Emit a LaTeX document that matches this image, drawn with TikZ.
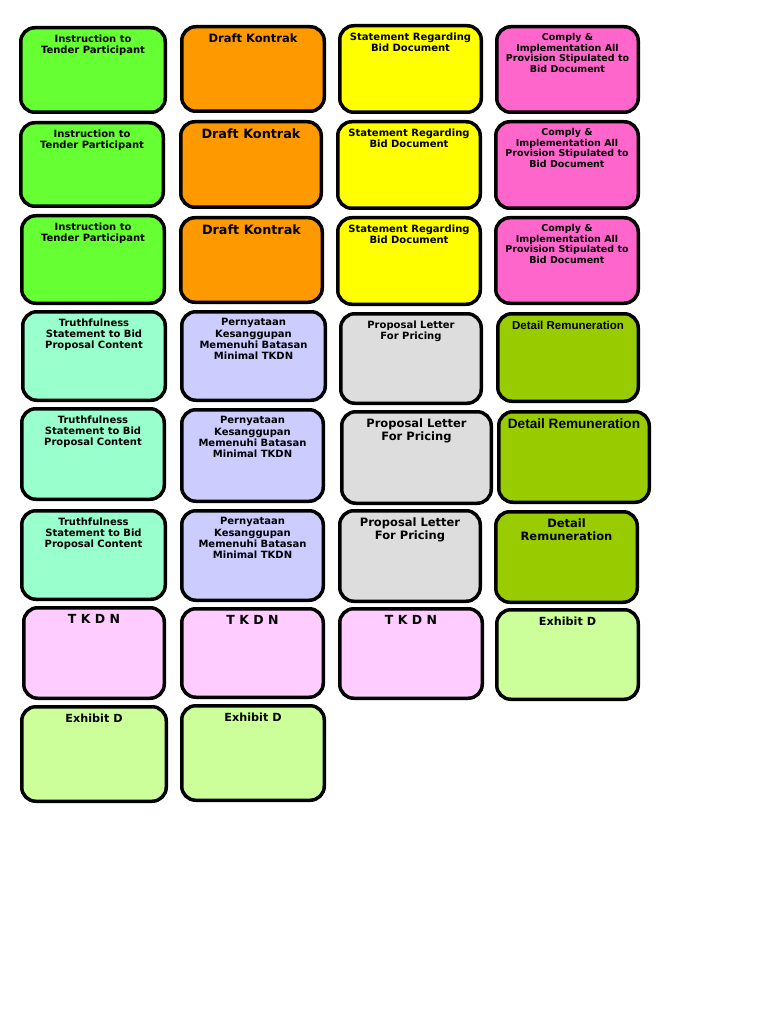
\documentclass[tikz,border=0pt]{standalone}
\usepackage{fontspec}
\setmainfont{DejaVu Sans}
\newfontfamily\arialfont{Liberation Sans}
\definecolor{instr}{HTML}{66FF33}
\definecolor{draft}{HTML}{FF9900}
\definecolor{stmt}{HTML}{FFFF00}
\definecolor{comply}{HTML}{FF66CC}
\definecolor{truth}{HTML}{99FFCC}
\definecolor{pern}{HTML}{CCCCFF}
\definecolor{prop}{HTML}{DDDDDD}
\definecolor{remun}{HTML}{99CC00}
\definecolor{tkdn}{HTML}{FFCCFF}
\definecolor{exh}{HTML}{CCFF99}
\begin{document}
\begin{tikzpicture}[x=1pt, y=-1pt,
    card/.style={draw, line width=3.5pt, rounded corners=14pt, inner sep=0pt},
    ttl/.style={anchor=north, inner sep=0pt, yshift=-8.5pt, align=center, font=\bfseries\fontsize{10}{11.2}\selectfont}]
        \useasboundingbox[fill=white] (0,0) rectangle (768,1024);

        \node[card, fill=instr, minimum width=144.5, minimum height=84.5, label={[ttl]north:Instruction to\\Tender Participant}] (instr1) at (93,70) {};
        \node[card, fill=draft, minimum width=142.5, minimum height=84.5, label={[ttl, font=\bfseries\fontsize{11.5}{13}\selectfont]north:Draft Kontrak}] (draft1) at (253,69) {};
        \node[card, fill=stmt, minimum width=141.5, minimum height=86.5, label={[ttl]north:Statement Regarding\\Bid Document}] (stmt1) at (410.5,69) {};
        \node[card, fill=comply, minimum width=141.5, minimum height=85.5, label={[ttl, font=\bfseries\fontsize{9.5}{10.5}\selectfont]north:Comply \&\\Implementation All\\Provision Stipulated to\\Bid Document}] (comply1) at (567.5,69.5) {};

        \node[card, fill=instr, minimum width=142.5, minimum height=83.5, label={[ttl]north:Instruction to\\Tender Participant}] (instr2) at (92,164.5) {};
        \node[card, fill=draft, minimum width=140.5, minimum height=85.5, label={[ttl, font=\bfseries\fontsize{12.8}{14}\selectfont]north:Draft Kontrak}] (draft2) at (251,164.5) {};
        \node[card, fill=stmt, minimum width=142.5, minimum height=86.5, label={[ttl]north:Statement Regarding\\Bid Document}] (stmt2) at (409,165) {};
        \node[card, fill=comply, minimum width=142.5, minimum height=86.5, label={[ttl, font=\bfseries\fontsize{9.5}{10.5}\selectfont]north:Comply \&\\Implementation All\\Provision Stipulated to\\Bid Document}] (comply2) at (567,165) {};

        \node[card, fill=instr, minimum width=142.5, minimum height=87.5, label={[ttl]north:Instruction to\\Tender Participant}] (instr3) at (93,259.5) {};
        \node[card, fill=draft, minimum width=141.5, minimum height=84.5, label={[ttl, font=\bfseries\fontsize{12.8}{14}\selectfont]north:Draft Kontrak}] (draft3) at (251.5,260) {};
        \node[card, fill=stmt, minimum width=142.5, minimum height=86.5, label={[ttl]north:Statement Regarding\\Bid Document}] (stmt3) at (409,261) {};
        \node[card, fill=comply, minimum width=142.5, minimum height=85.5, label={[ttl, font=\bfseries\fontsize{9.5}{10.5}\selectfont]north:Comply \&\\Implementation All\\Provision Stipulated to\\Bid Document}] (comply3) at (567,260.5) {};

        \node[card, fill=truth, minimum width=142.5, minimum height=88.5, label={[ttl]north:Truthfulness\\Statement to Bid\\Proposal Content}] (truth1) at (94,356) {};
        \node[card, fill=pern, minimum width=143.5, minimum height=88.5, label={[ttl]north:Pernyataan\\Kesanggupan\\Memenuhi Batasan\\Minimal TKDN}] (pern1) at (253.5,356) {};
        \node[card, fill=prop, minimum width=140.5, minimum height=89.5, label={[ttl]north:Proposal Letter\\For Pricing}] (prop1) at (411,358.5) {};
        \node[card, fill=remun, minimum width=140.5, minimum height=87.5, label={[ttl, font=\arialfont\bfseries\fontsize{11.5}{13}\selectfont]north:Detail Remuneration}] (remun1) at (568,357.5) {};

        \node[card, fill=truth, minimum width=142.5, minimum height=90.5, label={[ttl]north:Truthfulness\\Statement to Bid\\Proposal Content}] (truth2) at (93,454) {};
        \node[card, fill=pern, minimum width=141.5, minimum height=91.5, label={[ttl]north:Pernyataan\\Kesanggupan\\Memenuhi Batasan\\Minimal TKDN}] (pern2) at (252.5,455.5) {};
        \node[card, fill=prop, minimum width=149.5, minimum height=91.5, label={[ttl, font=\bfseries\fontsize{11.5}{12.8}\selectfont]north:Proposal Letter\\For Pricing}] (prop2) at (416.5,457.5) {};
        \node[card, fill=remun, minimum width=150.5, minimum height=90.5, label={[ttl, font=\arialfont\bfseries\fontsize{13.6}{15}\selectfont]north:Detail Remuneration}] (remun2) at (574,457) {};

        \node[card, fill=truth, minimum width=143.5, minimum height=88.5, label={[ttl]north:Truthfulness\\Statement to Bid\\Proposal Content}] (truth3) at (93.5,555) {};
        \node[card, fill=pern, minimum width=141.5, minimum height=89.5, label={[ttl]north:Pernyataan\\Kesanggupan\\Memenuhi Batasan\\Minimal TKDN}] (pern3) at (252.5,555.5) {};
        \node[card, fill=prop, minimum width=140.5, minimum height=90.5, label={[ttl, font=\bfseries\fontsize{11.5}{13.2}\selectfont]north:Proposal Letter\\For Pricing}] (prop3) at (410,556) {};
        \node[card, fill=remun, minimum width=141.5, minimum height=90.5, label={[ttl, font=\bfseries\fontsize{11.5}{13.3}\selectfont]north:Detail\\Remuneration}] (remun3) at (566.5,557) {};

        \node[card, fill=tkdn, minimum width=140.5, minimum height=90.5, label={[ttl, font=\bfseries\fontsize{12.5}{14}\selectfont]north:T K D N}] (tkdn1) at (94,653) {};
        \node[card, fill=tkdn, minimum width=141.5, minimum height=88.5, label={[ttl, font=\bfseries\fontsize{12.5}{14}\selectfont]north:T K D N}] (tkdn2) at (252.5,653) {};
        \node[card, fill=tkdn, minimum width=142.5, minimum height=89.5, label={[ttl, font=\bfseries\fontsize{12.5}{14}\selectfont]north:T K D N}] (tkdn3) at (411,653.5) {};
        \node[card, fill=exh, minimum width=141.5, minimum height=89.5, label={[ttl, font=\bfseries\fontsize{11.2}{13}\selectfont]north:Exhibit D}] (exh1) at (567.5,654.5) {};

        \node[card, fill=exh, minimum width=144.5, minimum height=94.5, label={[ttl, font=\bfseries\fontsize{11.2}{13}\selectfont]north:Exhibit D}] (exh2) at (94,754) {};
        \node[card, fill=exh, minimum width=142.5, minimum height=94.5, label={[ttl, font=\bfseries\fontsize{11.2}{13}\selectfont]north:Exhibit D}] (exh3) at (253,753) {};
    \end{tikzpicture}
\end{document}
